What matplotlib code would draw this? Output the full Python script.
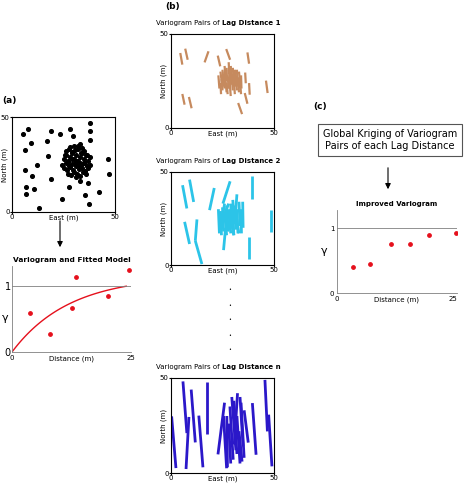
import numpy as np
import matplotlib
matplotlib.use("Agg")
import matplotlib.pyplot as plt

W, H = 474, 483
# ---- data ----
pts_x = [5.1,8.0,9.1,6.3,6.3,6.7,6.7,10.7,9.9,11.9,13.1,17.1,17.6,19.1,19.1,23.1,24.5,27.6,28.0,29.6,31.3,33.2,33.2,35.6,36.7,37.2,37.7,37.7,37.7,42.3,46.8,47.3,
         25,26,27,28,29,30,31,32,33,34,35,36,37,38,
         24.5,26,27.5,29,30.5,32,33.5,35,36.5,38,
         25,26.5,28,29.5,31,32.5,34,35.5,37,
         26,27.5,29,30.5,32,33.5,35,
         27,28.5,30,31.5,33,34.5,36,
         28,30,32,34,29,31,33,27,35,25.5,36.5]
pts_y = [41.2,43.9,36.3,32.8,22.3,13.2,9.6,12.3,18.8,24.6,2.3,37.4,29.3,42.6,17.2,40.9,7.0,13.2,43.9,39.8,18.4,35.6,16.3,8.8,15.3,4.0,46.8,42.5,37.7,10.5,28.1,20.2,
         28,30,27,29,31,28,30,27,29,31,28,30,27,29,
         25,26,24,25.5,26,24.5,25,26,24,25,
         23,22,23.5,22,24,22.5,23,21.5,23,
         32,33,31.5,32.5,33,31,32,
         20,19.5,21,20,19,21,20,
         34,34.5,35,33.5,28,27,26,26.5,26,30,30]

lag_a = [3.8, 8.0, 12.7, 13.5, 20.2, 24.6]
gam_a = [0.59, 0.27, 0.67, 1.13, 0.84, 1.24]
sill_a, range_a = 1.15, 12.0

lag_c = [3.5, 7.2, 11.7, 15.8, 19.7, 25.6]
gam_c = [0.40, 0.45, 0.75, 0.75, 0.90, 0.92]

seg1 = [((4.5,39.9),(5.5,33.7)),((6.9,42.2),(8.1,36.3)),((18.2,40.8),(16.3,34.9)),((22.7,38.5),(23.9,32.8)),
        ((26.8,42),(28.7,36.3)),((37.1,40.2),(37.9,34.2)),((5.5,18.1),(6.6,12.4)),((8.7,16.5),(10,10.5)),
        ((46.1,25.2),(46.9,18.6)),((32.6,13.3),(34.5,7.4)),((35.8,18.6),(37.1,12.9)),((37.9,23.9),(38.2,17.7)),
        ((36,29.5),(36.3,23.8)),((23,28),(23.5,21)),((24,30),(24.8,23)),((25,31),(25.5,24)),((26,33),(26.6,26)),
        ((27,32),(27.2,25)),((28,31),(28.7,24)),((29,30),(29.2,23)),((30,32),(30.5,25)),((31,29),(31.4,22)),
        ((32,31),(32.3,24)),((33,30),(33.6,23)),((34,28),(34.2,21)),((24.5,26),(25,20)),((26.5,25),(27,19)),
        ((28.5,24),(29,17)),((30.5,25),(31,18)),((32.5,26),(33,19)),((27.5,28),(28,21)),((29.5,27),(30,20)),
        ((25.5,27),(26,21)),((31.5,27),(32,20)),((33.5,25),(34,18)),((28,35),(28.3,29)),
        ((24,24),(24.3,18)),((26,30),(26.3,24)),((28,27),(28.2,21)),((30,29),(30.3,22)),((32,28),(32.4,22)),
        ((27,24),(27.5,18)),((29,33),(29.4,27)),((31,31),(31.2,25)),((33,27),(33.3,21)),((25,28),(25.2,22))]
seg2 = [((5.6,42.9),(7.7,30.4)),((9,45.9),(11,33.9)),((21,41.4),(18.7,29.5)),((28.7,45),(25.2,33)),
        ((39.5,47.7),(39.5,35.7)),((32,38),(31.2,25.5)),((48.4,29.8),(48.4,17.9)),((6.6,23.2),(9,11.3)),
        ((12.6,24.5),(11.8,13)),((11.8,13),(15,0.5)),((37.9,14.8),(37.9,3)),((26.5,20),(25.5,8)),
        ((23,30),(23.5,17)),((24,29),(24.5,16)),((25,31),(25.5,18)),((26,28),(27,16)),((27,32),(27.5,19)),
        ((28,30),(29,17)),((29,33),(29.5,20)),((30,29),(30.5,16)),((31,32),(31.5,19)),((32,30),(32.5,17)),
        ((33,34),(33.5,21)),((34,30),(34.2,17)),((34.8,34),(35,20)),((28.5,27),(30.5,16)),((26.5,24),(31,30)),
        ((30,35),(30.8,22)),((25.5,26),(28,33)),((27.5,18),(29.5,31)),((31.5,27),(33,17)),((24.5,22),(26,33))]
seg3 = [((0.3,29.8),(2.4,2.6)),((5.8,48.2),(7.7,21)),((8.7,29.5),(7.3,2.1)),((9.8,43.9),(11.8,16.1)),
        ((13.5,30.2),(15.5,3)),((17.4,47.7),(17.4,20.7)),((45.6,49),(46.8,21.9)),((47.4,30.7),(49,3.5)),
        ((39.5,36.8),(41.3,9.6)),((22.8,9.8),(26,37)),((27.1,30),(27.4,3)),((28.6,35),(30.2,7)),
        ((32.3,42),(30.7,15)),((25.5,30),(27,2.5)),((29.5,40),(31.5,12)),((32,30),(33.5,5)),((33.5,40),(35,14)),
        ((34,37),(35.5,8)),((35.5,33),(37.5,16)),((30.5,38),(32,10)),((28,26),(29,5)),((33,22),(34.5,6))]

colors = {"b1": "#C68A5E", "b2": "#2CC4E8", "b3": "#2B18C9", "red": "#E5101C"}

fig = plt.figure(figsize=(W/100, H/100), dpi=100)

def ax_px(l, t, r, b):
    return fig.add_axes([l/W, 1-b/H, (r-l)/W, (b-t)/H])

FS = 5
def style_map(ax):
    ax.set_xlim(0, 50); ax.set_ylim(0, 50)
    ax.set_xticks([0, 50]); ax.set_yticks([0, 50])
    ax.tick_params(length=1.2, pad=0.5, labelsize=FS)
    ax.set_xlabel("East (m)", fontsize=FS, labelpad=-4)
    ax.set_ylabel("North (m)", fontsize=FS)
    ax.yaxis.set_label_coords(-0.035, 0.5)
    for s in ax.spines.values():
        s.set_linewidth(0.8)

# (a) scatter
ax = ax_px(12, 117, 115, 212)
ax.scatter(pts_x, pts_y, s=7, c="black")
style_map(ax)
fig.text(2/W, 1-100/H, "(a)", fontsize=6.5, fontweight="bold", va="center")
fig.add_artist(matplotlib.patches.FancyArrowPatch((60/W, 1-218/H), (60/W, 1-250/H), transform=fig.transFigure,
               arrowstyle="-|>", mutation_scale=8, color="black", lw=0.8))

def style_vario(ax, title, tfs):
    ax.set_xlim(0, 25); ax.set_ylim(0, 1.3)
    ax.axhline(1, color="gray", lw=0.6)
    ax.spines["top"].set_visible(False); ax.spines["right"].set_visible(False)
    for s in ("left", "bottom"):
        ax.spines[s].set_color("gray"); ax.spines[s].set_linewidth(0.6)
    ax.set_xticks([0, 25]); ax.set_yticks([0, 1])
    ax.tick_params(length=0, pad=2, labelsize=FS)
    ax.set_xlabel("Distance (m)", fontsize=FS, labelpad=-4)
    ax.set_ylabel("γ", fontsize=8, rotation=0, va="center")
    ax.set_title(title, fontsize=tfs, fontweight="bold", pad=3)

ax = ax_px(12, 266, 131, 352)
xx = np.linspace(0, 24, 100)
ax.plot(xx, sill_a*(1-np.exp(-xx/range_a)), color=colors["red"], lw=1)
ax.scatter(lag_a, gam_a, s=6, c=colors["red"], zorder=3)
style_vario(ax, "Variogram and Fitted Model", 5.3)
ax.yaxis.set_tick_params(labelsize=7, pad=1)
ax.yaxis.set_label_coords(-0.06, 0.4)

# (b)
fig.text(165/W, 1-6/H, "(b)", fontsize=6.5, fontweight="bold", va="center")
for (t, b, segs, col, n, lw) in [(34, 128, seg1, colors["b1"], "1", 1.6), (172, 265, seg2, colors["b2"], "2", 2.0),
                                 (378, 473, seg3, colors["b3"], "n", 2.0)]:
    ax = ax_px(171, t, 274, b)
    for (p, q) in segs:
        ax.plot([p[0], q[0]], [p[1], q[1]], color=col, lw=lw, solid_capstyle="butt")
    style_map(ax)
    fig.text(222/W, 1-(t-11)/H, "Variogram Pairs of ", fontsize=FS, ha="right", va="center")
    fig.text(222/W, 1-(t-11)/H, "Lag Distance " + n, fontsize=FS, fontweight="bold", ha="left", va="center")
for yy in [290, 305, 320, 335, 350]:
    fig.text(230/W, 1-yy/H, "•", fontsize=3.5, ha="center", va="center")

# (c)
fig.text(313/W, 1-107/H, "(c)", fontsize=6.5, fontweight="bold", va="center")
fig.text(390/W, 1-140/H, "Global Kriging of Variogram\nPairs of each Lag Distance", fontsize=7, ha="center",
         va="center", linespacing=1.3,
         bbox=dict(boxstyle="square,pad=0.5", fc="white", ec="#555555", lw=0.8))
fig.add_artist(matplotlib.patches.FancyArrowPatch((388/W, 1-165/H), (388/W, 1-192/H), transform=fig.transFigure,
               arrowstyle="-|>", mutation_scale=8, color="black", lw=0.8))
ax = ax_px(337, 210, 457, 293)
ax.scatter(lag_c, gam_c, s=6, c=colors["red"], zorder=3)
style_vario(ax, "Improved Variogram", 5)
ax.set_xlim(0, 25.8)
ax.set_ylim(0, 1.28)

fig.savefig("out.png", dpi=100)
